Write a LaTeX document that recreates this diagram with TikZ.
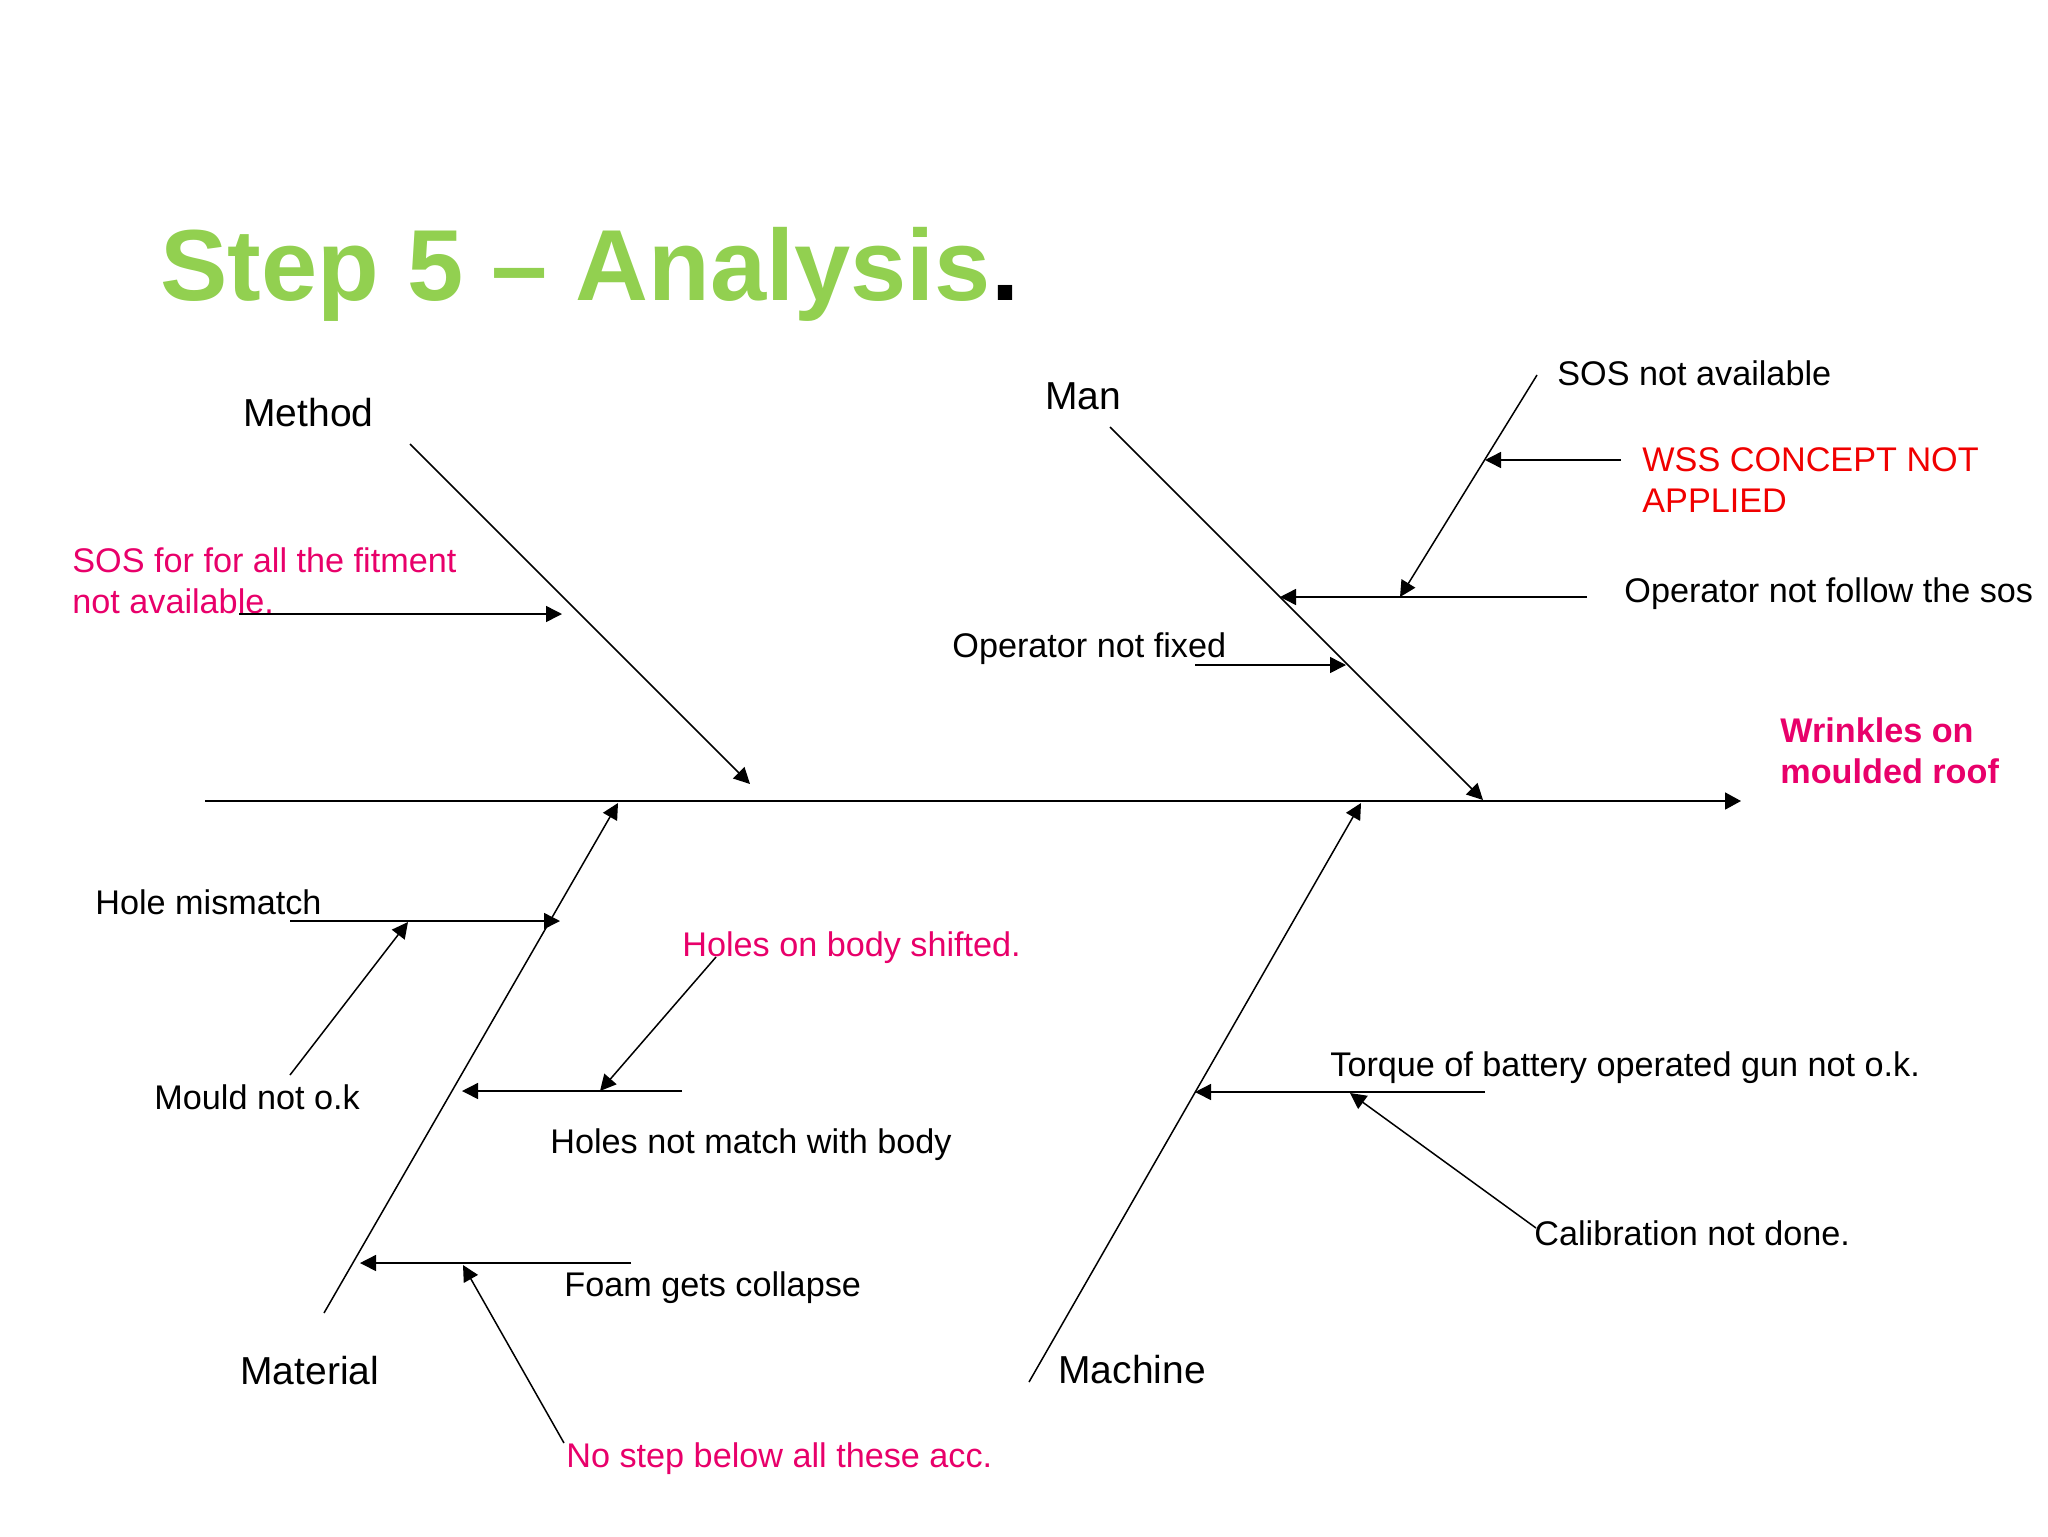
\documentclass[tikz,border=0pt]{standalone}
\usepackage{fontspec}
\setmainfont{Liberation Sans}
\usetikzlibrary{arrows.meta}
\definecolor{leafgreen}{HTML}{92D050}
\definecolor{rosered}{HTML}{E8006A}
\definecolor{alertred}{HTML}{F00000}

\begin{document}
\begin{tikzpicture}[
    x=0.5pt, y=-0.5pt,
    txt/.style={inner sep=0pt, anchor=base west, align=left, font=\fontsize{17.1}{20.5}\selectfont},
    cat/.style={inner sep=0pt, anchor=base west, font=\fontsize{19.5}{23}\selectfont},
    hot/.style={txt, text=rosered},
    spine/.style={line width=0.9pt, -{Triangle[length=8pt, width=8.5pt]}},
    bone/.style={line width=0.75pt, -{Triangle[length=8pt, width=8pt]}}
]
\useasboundingbox (0,0) rectangle (2048,1536);

% ==================== TITLE ====================
\node[inner sep=0pt, anchor=base west, font=\fontsize{50.5}{60}\selectfont\bfseries] (title) at (160,300)
    {\textcolor{leafgreen}{Step 5 -- Analysis}.};

% ==================== CATEGORIES ====================
\node[cat] (method) at (243,426) {Method};
\node[cat] (man) at (1045,409) {Man};
\node[cat] (material) at (240,1384) {Material};
\node[cat] (machine) at (1058,1383) {Machine};

\node[txt, font=\fontsize{17.1}{20.5}\selectfont\bfseries, text=rosered] (effect) at (1780,783) {Wrinkles on\\moulded roof};

% ==================== CAUSES ====================
\node[hot] (sosfit) at (72,613) {SOS for for all the fitment\\not available.};
\node[txt] (opfixed) at (952,657) {Operator not fixed};
\node[txt] (sosna) at (1557,385) {SOS not available};
\node[txt, text=alertred] (wss) at (1642,512) {WSS CONCEPT NOT\\APPLIED};
\node[txt] (opfollow) at (1624,602) {Operator not follow the sos};

\node[txt] (holemis) at (95,914) {Hole mismatch};
\node[txt] (mould) at (154,1109) {Mould not o.k};
\node[hot] (shifted) at (682,956) {Holes on body shifted.};
\node[txt] (nomatch) at (550,1153) {Holes not match with body};
\node[txt] (foam) at (564,1296) {Foam gets collapse};
\node[hot] (nostep) at (566,1467) {No step below all these acc.};
\node[txt] (torque) at (1330,1076) {Torque of battery operated gun not o.k.};
\node[txt] (calib) at (1534,1245) {Calibration not done.};

% ==================== BONE ENDS ====================
\coordinate (tail) at (205,801);
\coordinate (head) at (1741,801);
\coordinate (methodA) at (410,444);
\coordinate (methodB) at (750,784);
\coordinate (manA) at (1110,427);
\coordinate (manB) at (1483,800);
\coordinate (materialA) at (324,1313);
\coordinate (materialB) at (618,803);
\coordinate (machineA) at (1029,1382);
\coordinate (machineB) at (1361,803);

\coordinate (sosfitA) at (239,614);
\coordinate (sosfitB) at (562,614);
\coordinate (opfixedA) at (1195,665);
\coordinate (opfixedB) at (1346,665);
\coordinate (opfollowA) at (1587,597);
\coordinate (opfollowB) at (1280,597);
\coordinate (sosnaA) at (1537,375);
\coordinate (sosnaB) at (1400,597);
\coordinate (wssA) at (1621,460);
\coordinate (wssB) at (1485,460);

\coordinate (holemisA) at (290,921);
\coordinate (holemisB) at (560,921);
\coordinate (mouldA) at (290,1075);
\coordinate (mouldB) at (408,922);
\coordinate (shiftedA) at (716,957);
\coordinate (shiftedB) at (600,1091);
\coordinate (nomatchA) at (682,1091);
\coordinate (nomatchB) at (462,1091);
\coordinate (foamA) at (631,1263);
\coordinate (foamB) at (360,1263);
\coordinate (nostepA) at (564,1443);
\coordinate (nostepB) at (463,1265);
\coordinate (torqueA) at (1485,1092);
\coordinate (torqueB) at (1195,1092);
\coordinate (calibA) at (1536,1228);
\coordinate (calibB) at (1350,1093);

% ==================== ARROWS ====================
\draw[spine] (tail) -- (head);

% Main bones
\draw[bone] (methodA) -- (methodB);
\draw[bone] (manA) -- (manB);
\draw[bone] (materialA) -- (materialB);
\draw[bone] (machineA) -- (machineB);

% Method / Man
\draw[bone] (sosfitA) -- (sosfitB);
\draw[bone] (opfixedA) -- (opfixedB);
\draw[bone] (opfollowA) -- (opfollowB);
\draw[bone] (sosnaA) -- (sosnaB);
\draw[bone] (wssA) -- (wssB);

% Material / Machine
\draw[bone] (holemisA) -- (holemisB);
\draw[bone] (mouldA) -- (mouldB);
\draw[bone] (shiftedA) -- (shiftedB);
\draw[bone] (nomatchA) -- (nomatchB);
\draw[bone] (foamA) -- (foamB);
\draw[bone] (nostepA) -- (nostepB);
\draw[bone] (torqueA) -- (torqueB);
\draw[bone] (calibA) -- (calibB);

\end{tikzpicture}
\end{document}
